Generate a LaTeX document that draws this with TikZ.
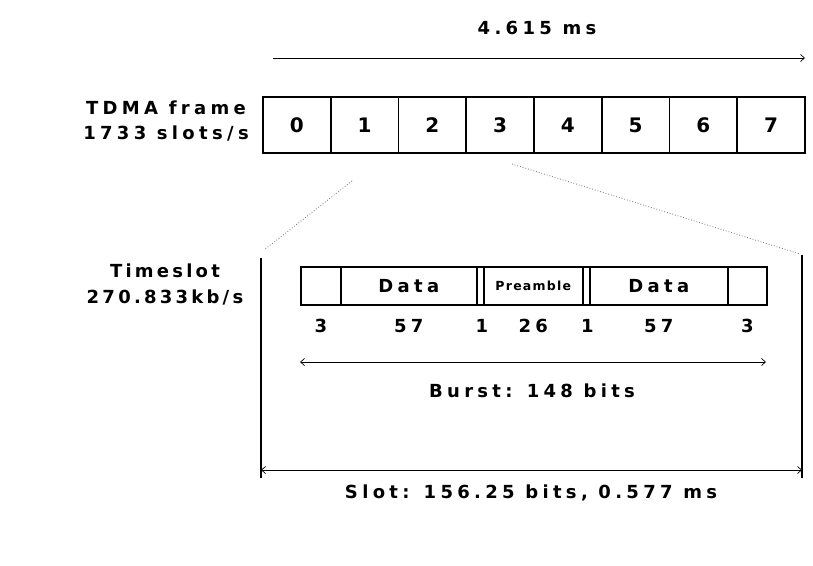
\documentclass[tikz,border=0pt]{standalone}
\usepackage{fontspec}
\setmainfont{DejaVu Sans}[LetterSpace=24]
\usetikzlibrary{arrows.meta}
\begin{document}
\begin{tikzpicture}[x=1pt,y=-1pt,
  lbl/.style={inner sep=0pt, font=\fontsize{18}{25}\selectfont\bfseries},
  fbox/.style={draw, line width=1.6pt, minimum width=67.75pt, minimum height=56pt, inner sep=0pt, font=\fontsize{20}{20}\selectfont\bfseries},
  bbox/.style={draw, line width=1.6pt, minimum height=38pt, inner sep=0pt, anchor=west},
  dimline/.style={line width=0.7pt},
  edge/.style={line width=1.5pt},
  zoomline/.style={dotted, line width=0.8pt, black!55}]
\useasboundingbox (0,0) rectangle (813,565);
\fill[white] (0,0) rectangle (813,565);

% TDMA frame
\node[lbl] (ttop) at (537,28) {4.615 ms};
\coordinate (ta) at (273,58);
\coordinate (tb) at (805,58);
\draw[dimline, -{Straight Barb[length=4pt,width=7pt]}] (ta) -- (tb);

\node[lbl, align=center] (tdma) at (166,121) {TDMA frame\\1733 slots/s};
\foreach \i in {0,...,7}{
  \node[fbox] (f\i) at ({296.875+67.75*\i},125) {\i};
}

% zoom projection lines
\coordinate (z1) at (352,181);
\coordinate (z2) at (264,250);
\coordinate (z3) at (512,164);
\coordinate (z4) at (800,254);
\draw[zoomline] (z1) -- (z2);
\draw[zoomline] (z3) -- (z4);

% timeslot
\node[lbl, align=center, font=\fontsize{18}{26}\selectfont\bfseries\addfontfeatures{LetterSpace=18}] (tslot) at (165,284) {Timeslot\\270.833kb/s};
\coordinate (sl1) at (261,258);
\coordinate (sl2) at (261,478);
\coordinate (sr1) at (802,255);
\coordinate (sr2) at (802,478);
\draw[edge] (sl1) -- (sl2);
\draw[edge] (sr1) -- (sr2);

% burst
\node[bbox, minimum width=40pt] (b1) at (300,286) {};
\node[bbox, minimum width=136pt, font=\fontsize{18}{18}\selectfont\bfseries] (b2) at (340,286) {Data};
\node[bbox, minimum width=7pt] (b3) at (476,286) {};
\node[bbox, minimum width=99pt, font=\fontsize{12.5}{13}\selectfont\bfseries\addfontfeatures{LetterSpace=10}] (b4) at (483,286) {Preamble};
\node[bbox, minimum width=7pt] (b5) at (582,286) {};
\node[bbox, minimum width=138pt, font=\fontsize{18}{18}\selectfont\bfseries] (b6) at (589,286) {Data};
\node[bbox, minimum width=39pt] (b7) at (727,286) {};

\coordinate (row) at (0,326);
\node[lbl] (n1) at (b1 |- row) {3};
\node[lbl] (n2) at (b2 |- row) {57};
\node[lbl, xshift=1.5pt] (n3) at (b3 |- row) {1};
\node[lbl] (n4) at (b4 |- row) {26};
\node[lbl, xshift=1pt] (n5) at (b5 |- row) {1};
\node[lbl] (n6) at (b6 |- row) {57};
\node[lbl] (n7) at (b7 |- row) {3};

\coordinate (ba) at (300,362);
\coordinate (bb) at (766,362);
\draw[dimline, {Straight Barb[length=4pt,width=7pt]}-{Straight Barb[length=4pt,width=7pt]}] (ba) -- (bb);
\node[lbl] (burst) at (532,391) {Burst: 148 bits};

\coordinate (sa) at (261,470);
\coordinate (sb) at (802,470);
\draw[dimline, {Straight Barb[length=4pt,width=7pt]}-{Straight Barb[length=4pt,width=7pt]}] (sa) -- (sb);
\node[lbl] (slot) at (531,493) {Slot: 156.25 bits, 0.577 ms};
\end{tikzpicture}
\end{document}
